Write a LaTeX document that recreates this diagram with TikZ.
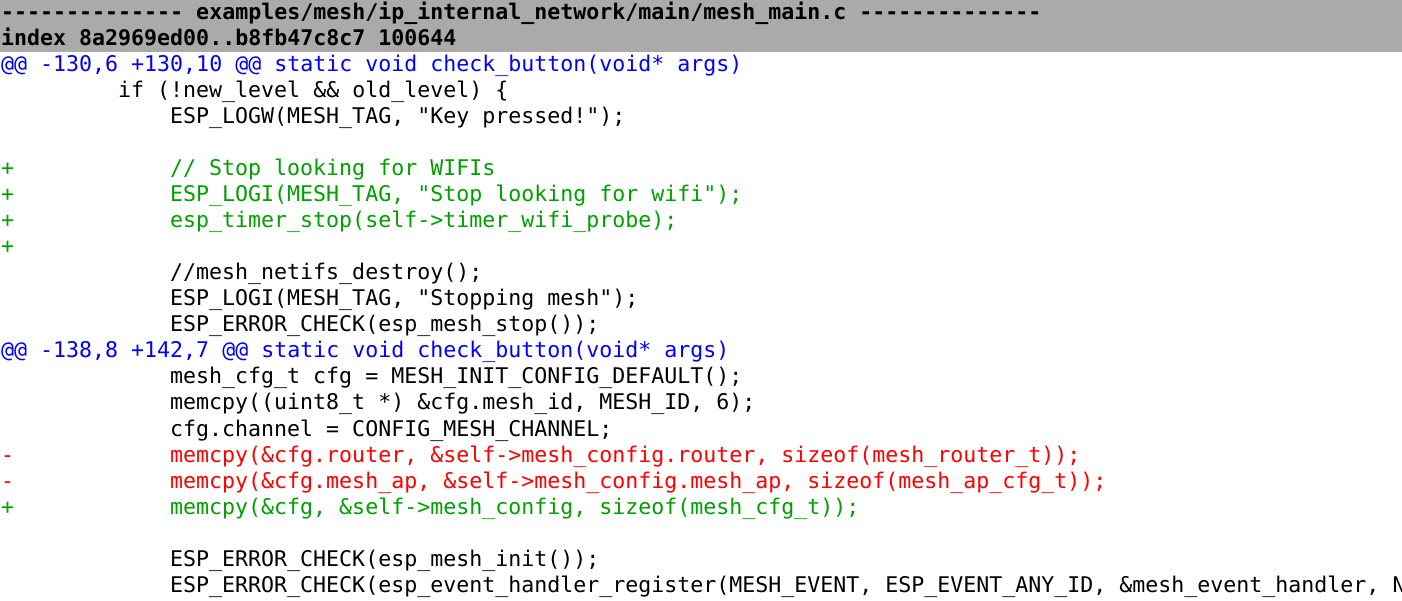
\documentclass[tikz,border=0pt]{standalone}
\usepackage{fontspec}
\setmonofont{DejaVu Sans Mono}
\definecolor{hdr}{HTML}{AAAAAA}
\definecolor{hunk}{HTML}{0000FF}
\definecolor{add}{HTML}{00A000}
\definecolor{del}{HTML}{FF0000}
\tikzset{ln/.style={anchor=base west,inner sep=0pt,font=\ttfamily\fontsize{21.6}{26}\selectfont},
 hd/.style={ln,font=\ttfamily\bfseries\fontsize{21.6}{26}\selectfont},
 hk/.style={ln,text=hunk}, ad/.style={ln,text=add}, dl/.style={ln,text=del}}
\newcommand{\cx}[1]{1+#1*13.0}
\newcommand{\ry}[1]{580-#1*26}
\begin{document}
\begin{tikzpicture}[x=1pt,y=1pt]
\useasboundingbox (0,0) rectangle (1402,600);
\clip (0,0) rectangle (1402,600);
\fill[white] (0,0) rectangle (1402,600);
\fill[hdr] (0,548) rectangle (1402,600);
\node[hd] (l0) at ({\cx{0}},{\ry{0}}) {-------------- examples/mesh/ip\_internal\_network/main/mesh\_main.c --------------};
\node[hd] (l1) at ({\cx{0}},{\ry{1}}) {index 8a2969ed00..b8fb47c8c7 100644};
\node[hk] (l2) at ({\cx{0}},{\ry{2}}) {@@ -130,6 +130,10 @@ static void check\_button(void* args)};
\node[ln] (l3) at ({\cx{9}},{\ry{3}}) {if (!new\_level \&\& old\_level) \{};
\node[ln] (l4) at ({\cx{13}},{\ry{4}}) {ESP\_LOGW(MESH\_TAG, "Key pressed!");};
\node[ad] (p6) at ({\cx{0}},{\ry{6}}) {+};
\node[ad] (l6) at ({\cx{13}},{\ry{6}}) {// Stop looking for WIFIs};
\node[ad] (p7) at ({\cx{0}},{\ry{7}}) {+};
\node[ad] (l7) at ({\cx{13}},{\ry{7}}) {ESP\_LOGI(MESH\_TAG, "Stop looking for wifi");};
\node[ad] (p8) at ({\cx{0}},{\ry{8}}) {+};
\node[ad] (l8) at ({\cx{13}},{\ry{8}}) {esp\_timer\_stop(self->timer\_wifi\_probe);};
\node[ad] (p9) at ({\cx{0}},{\ry{9}}) {+};
\node[ln] (l10) at ({\cx{13}},{\ry{10}}) {//mesh\_netifs\_destroy();};
\node[ln] (l11) at ({\cx{13}},{\ry{11}}) {ESP\_LOGI(MESH\_TAG, "Stopping mesh");};
\node[ln] (l12) at ({\cx{13}},{\ry{12}}) {ESP\_ERROR\_CHECK(esp\_mesh\_stop());};
\node[hk] (l13) at ({\cx{0}},{\ry{13}}) {@@ -138,8 +142,7 @@ static void check\_button(void* args)};
\node[ln] (l14) at ({\cx{13}},{\ry{14}}) {mesh\_cfg\_t cfg = MESH\_INIT\_CONFIG\_DEFAULT();};
\node[ln] (l15) at ({\cx{13}},{\ry{15}}) {memcpy((uint8\_t *) \&cfg.mesh\_id, MESH\_ID, 6);};
\node[ln] (l16) at ({\cx{13}},{\ry{16}}) {cfg.channel = CONFIG\_MESH\_CHANNEL;};
\node[dl] (m17) at ({\cx{0}},{\ry{17}}) {-};
\node[dl] (l17) at ({\cx{13}},{\ry{17}}) {memcpy(\&cfg.router, \&self->mesh\_config.router, sizeof(mesh\_router\_t));};
\node[dl] (m18) at ({\cx{0}},{\ry{18}}) {-};
\node[dl] (l18) at ({\cx{13}},{\ry{18}}) {memcpy(\&cfg.mesh\_ap, \&self->mesh\_config.mesh\_ap, sizeof(mesh\_ap\_cfg\_t));};
\node[ad] (p19) at ({\cx{0}},{\ry{19}}) {+};
\node[ad] (l19) at ({\cx{13}},{\ry{19}}) {memcpy(\&cfg, \&self->mesh\_config, sizeof(mesh\_cfg\_t));};
\node[ln] (l21) at ({\cx{13}},{\ry{21}}) {ESP\_ERROR\_CHECK(esp\_mesh\_init());};
\node[ln] (l22) at ({\cx{13}},{\ry{22}}) {ESP\_ERROR\_CHECK(esp\_event\_handler\_register(MESH\_EVENT, ESP\_EVENT\_ANY\_ID, \&mesh\_event\_handler, NULL));};
\end{tikzpicture}
\end{document}
